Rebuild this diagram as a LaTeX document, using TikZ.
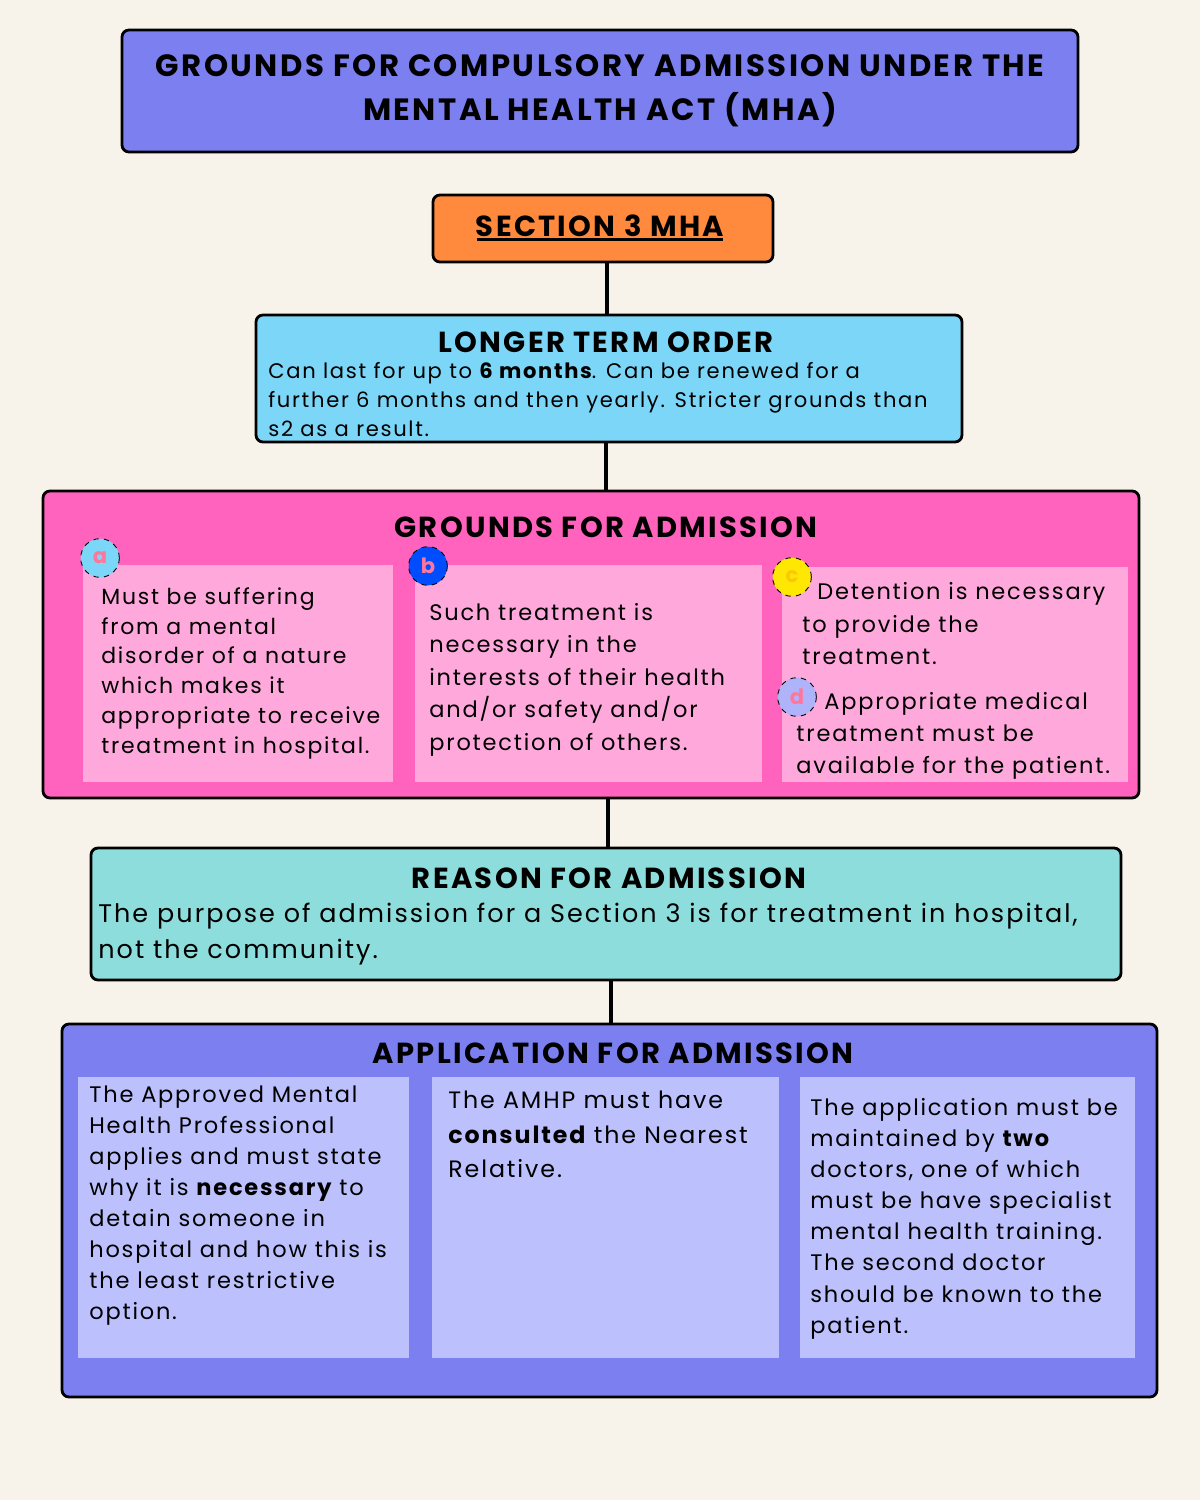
\documentclass[tikz,border=0pt]{standalone}
\usepackage{fontspec}
\setmainfont[LetterSpace=8]{Poppins}
\newfontfamily\tfont[LetterSpace=8]{Poppins Bold}
\definecolor{bg}{HTML}{F7F3EA}
\definecolor{violet}{HTML}{7B7FF0}
\definecolor{orng}{HTML}{FF8A3D}
\definecolor{sky}{HTML}{7CD6F7}
\definecolor{hot}{HTML}{FF63BE}
\definecolor{pinkin}{HTML}{FFA8DC}
\definecolor{teal}{HTML}{8DDDDC}
\definecolor{lav}{HTML}{BCC0FD}
\begin{document}
\begin{tikzpicture}[x=0.02cm,y=-0.02cm,
 box/.style={draw=black,line width=1.6pt,rounded corners=4pt},
 conn/.style={line width=2pt},
 ttl/.style={font=\tfont\fontsize{16.5}{17}\selectfont,align=center},
 body/.style={font=\fontsize{12.5}{17.5}\selectfont,align=left,anchor=north west,inner sep=0pt},
 badge/.style={circle,draw=black,dashed,line width=0.5pt,minimum size=22pt,inner sep=0pt,font=\bfseries\fontsize{12}{12}\selectfont,text=pinkin!70!red}]
\fill[bg] (0,0) rectangle (1200,1500);
% title
\draw[box,fill=violet] (122,30) rectangle (1078,152);
\node[ttl,font=\tfont\fontsize{17.5}{20}\selectfont] (title) at (600,91) {GROUNDS FOR COMPULSORY ADMISSION UNDER THE\\[5pt]MENTAL HEALTH ACT (MHA)};
% section 3
\draw[box,fill=orng] (433,195) rectangle (773,262);
\node[ttl] (sec) at (600,226) {SECTION 3 MHA};
\draw[line width=1.3pt] ([yshift=-1.5pt,xshift=4pt]sec.base west) -- ([yshift=-1.5pt,xshift=-4pt]sec.base east);
\coordinate (s1) at (607,262); \coordinate (s2) at (607,315);
\draw[conn] (s1) -- (s2);
% longer term
\draw[box,fill=sky] (256,315) rectangle (962,442);
\node[ttl] (lt) at (606,342) {LONGER TERM ORDER};
\node[body,font=\fontsize{12}{16.5}\selectfont] (ltb) at (268,362) {Can last for up to {\bfseries 6 months}. Can be renewed for a\\further 6 months and then yearly. Stricter grounds than\\s2 as a result.};
\coordinate (l1) at (606,442); \coordinate (l2) at (606,491);
\draw[conn] (l1) -- (l2);
% grounds
\draw[box,fill=hot] (43,491) rectangle (1139,798);
\node[ttl] (gr) at (606,527) {GROUNDS FOR ADMISSION};
\fill[pinkin] (83,565) rectangle (393,782);
\fill[pinkin] (415,565) rectangle (762,782);
\fill[pinkin] (782,567) rectangle (1128,782);
\node[body,font=\fontsize{12.5}{17}\selectfont] (ga) at (101,587) {Must be suffering\\from a mental\\disorder of a nature\\which makes it\\appropriate to receive\\treatment in hospital.};
\node[body,font=\fontsize{12.8}{18.5}\selectfont] (gb) at (429,603) {Such treatment is\\necessary in the\\interests of their health\\and/or safety and/or\\protection of others.};
\node[body,font=\fontsize{12.8}{18.5}\selectfont] (gc) at (817,582) {Detention is necessary};
\node[body,font=\fontsize{12.8}{18.5}\selectfont] (gc2) at (802,615) {to provide the\\treatment.};
\node[body,font=\fontsize{12.8}{18.5}\selectfont] (gd) at (824,692) {Appropriate medical};
\node[body,font=\fontsize{12.8}{18.5}\selectfont] (gd2) at (796,724) {treatment must be\\available for the patient.};
\node[badge,fill=sky] (ba) at (100,558) {a};
\node[badge,fill=blue!70!cyan] (bb) at (428,566) {b};
\node[badge,fill=yellow!90!orange,text=yellow!60!orange] (bc) at (792,577) {c};
\node[badge,fill=lav!80!violet] (bd) at (797,697) {d};
\coordinate (g1) at (608,798); \coordinate (g2) at (608,848);
\draw[conn] (g1) -- (g2);
% reason
\draw[box,fill=teal] (91,848) rectangle (1121,980);
\node[ttl] (re) at (609,878) {REASON FOR ADMISSION};
\node[body,font=\fontsize{14.5}{20.5}\selectfont] (reb) at (98,903) {The purpose of admission for a Section 3 is for treatment in hospital,\\not the community.};
\coordinate (r1) at (611,980); \coordinate (r2) at (611,1024);
\draw[conn] (r1) -- (r2);
% application
\draw[box,fill=violet] (62,1024) rectangle (1157,1397);
\node[ttl] (ap) at (613,1053) {APPLICATION FOR ADMISSION};
\fill[lav] (78,1077) rectangle (409,1358);
\fill[lav] (432,1077) rectangle (779,1358);
\fill[lav] (800,1077) rectangle (1135,1358);
\node[body,font=\fontsize{12.8}{17.7}\selectfont] (a1) at (89,1085) {The Approved Mental\\Health Professional\\applies and must state\\why it is {\bfseries necessary} to\\detain someone in\\hospital and how this is\\the least restrictive\\option.};
\node[body,font=\fontsize{13.5}{19.5}\selectfont] (a2) at (448,1091) {The AMHP must have\\{\bfseries consulted} the Nearest\\Relative.};
\node[body,font=\fontsize{12.8}{17.7}\selectfont] (a3) at (810,1098) {The application must be\\maintained by {\bfseries two}\\doctors, one of which\\must be have specialist\\mental health training.\\The second doctor\\should be known to the\\patient.};
\end{tikzpicture}
\end{document}
